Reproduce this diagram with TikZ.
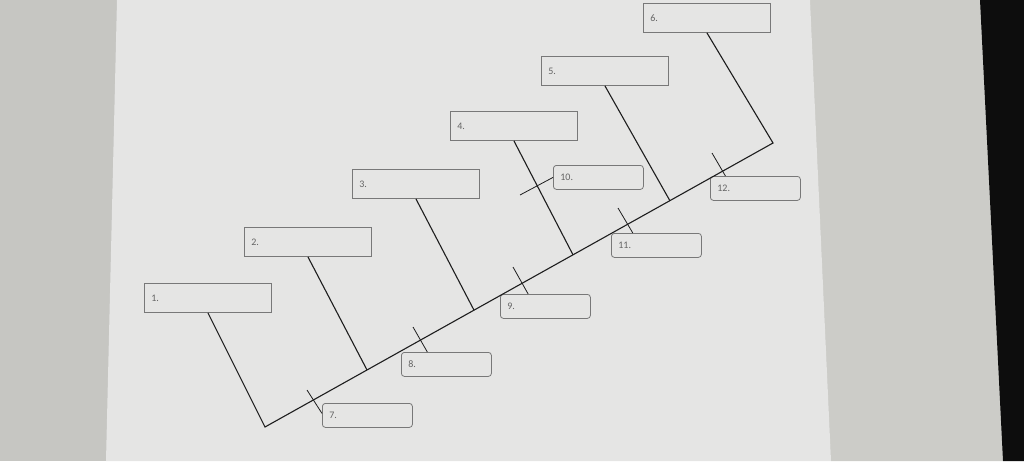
\documentclass[tikz,border=0pt]{standalone}
\usepackage{fontspec}
\setmainfont{Carlito}
\usetikzlibrary{calc}
\definecolor{sidegrey}{RGB}{198,198,194}
\definecolor{rightgrey}{RGB}{204,204,200}
\definecolor{pagec}{RGB}{229,229,228}
\definecolor{boxgrey}{RGB}{120,120,120}
\definecolor{labgrey}{RGB}{100,100,100}
\definecolor{inkc}{RGB}{30,30,30}
\begin{document}
\begin{tikzpicture}[x=1pt, y=-1pt,
    box/.style={draw=boxgrey, line width=.8pt, minimum width=127pt, minimum height=29pt,
        text width=113pt, inner xsep=7pt, align=left, anchor=north west, text=labgrey,
        font=\fontsize{10}{12}\selectfont},
    tag/.style={box, rounded corners=3pt, minimum width=90pt, minimum height=24pt, text width=76pt},
    bone/.style={draw=inkc, line width=1.1pt},
    tick/.style={draw=inkc, line width=.8pt}]
    \useasboundingbox (0,0) rectangle (1024,461);
    \fill[sidegrey] (0,0) rectangle (1024,461);
    \fill[rightgrey] (810,0) -- (980,0) -- (1003,461) -- (831,461) -- cycle;
    \fill[pagec] (117,0) -- (810,0) -- (831,461) -- (106,461) -- cycle;
    \fill[black!95] (980,0) -- (1024,0) -- (1024,461) -- (1003,461) -- cycle;
    
    \node[box] (b1) at (144,283) {1.};
    \node[box] (b2) at (244,227) {2.};
    \node[box] (b3) at (352,169) {3.};
    \node[box] (b4) at (450,111) {4.};
    \node[box] (b5) at (541,56) {5.};
    \node[box] (b6) at (643,3) {6.};
    
    \node[tag] (c7) at (322,403) {7.};
    \node[tag] (c8) at (401,352) {8.};
    \node[tag] (c9) at (500,294) {9.};
    \node[tag] (c10) at (553,165) {10.};
    \node[tag] (c11) at (611,233) {11.};
    \node[tag] (c12) at (710,176) {12.};
    
    \coordinate (tail) at (265,427);
    \coordinate (head) at (773,143);
    \draw[bone] (b1.south) -- (tail) -- (head) -- (b6.south);
    \foreach \b/\t in {b2/.2008, b3/.4114, b4/.6063, b5/.797}
    {
        \draw[bone] (\b.south) -- ($(tail)!\t!(head)$);
    }
    
    \coordinate (k7) at (307,390);
    \coordinate (k8) at (413,327);
    \coordinate (k9) at (513,267);
    \coordinate (k10) at (520,195);
    \coordinate (k11) at (618,208);
    \coordinate (k12) at (712,153);
    \draw[tick] (k7)--($(c7.north west)!.42!(c7.south west)$);
    \draw[tick] (k8)--($(c8.north west)!.29!(c8.north east)$);
    \draw[tick] (k9)--($(c9.north west)!.31!(c9.north east)$);
    \draw[tick] (k10)--(c10.west);
    \draw[tick] (k11)--($(c11.north west)!.24!(c11.north east)$);
    \draw[tick] (k12)--($(c12.north west)!.17!(c12.north east)$);
    
\end{tikzpicture}
\end{document}
